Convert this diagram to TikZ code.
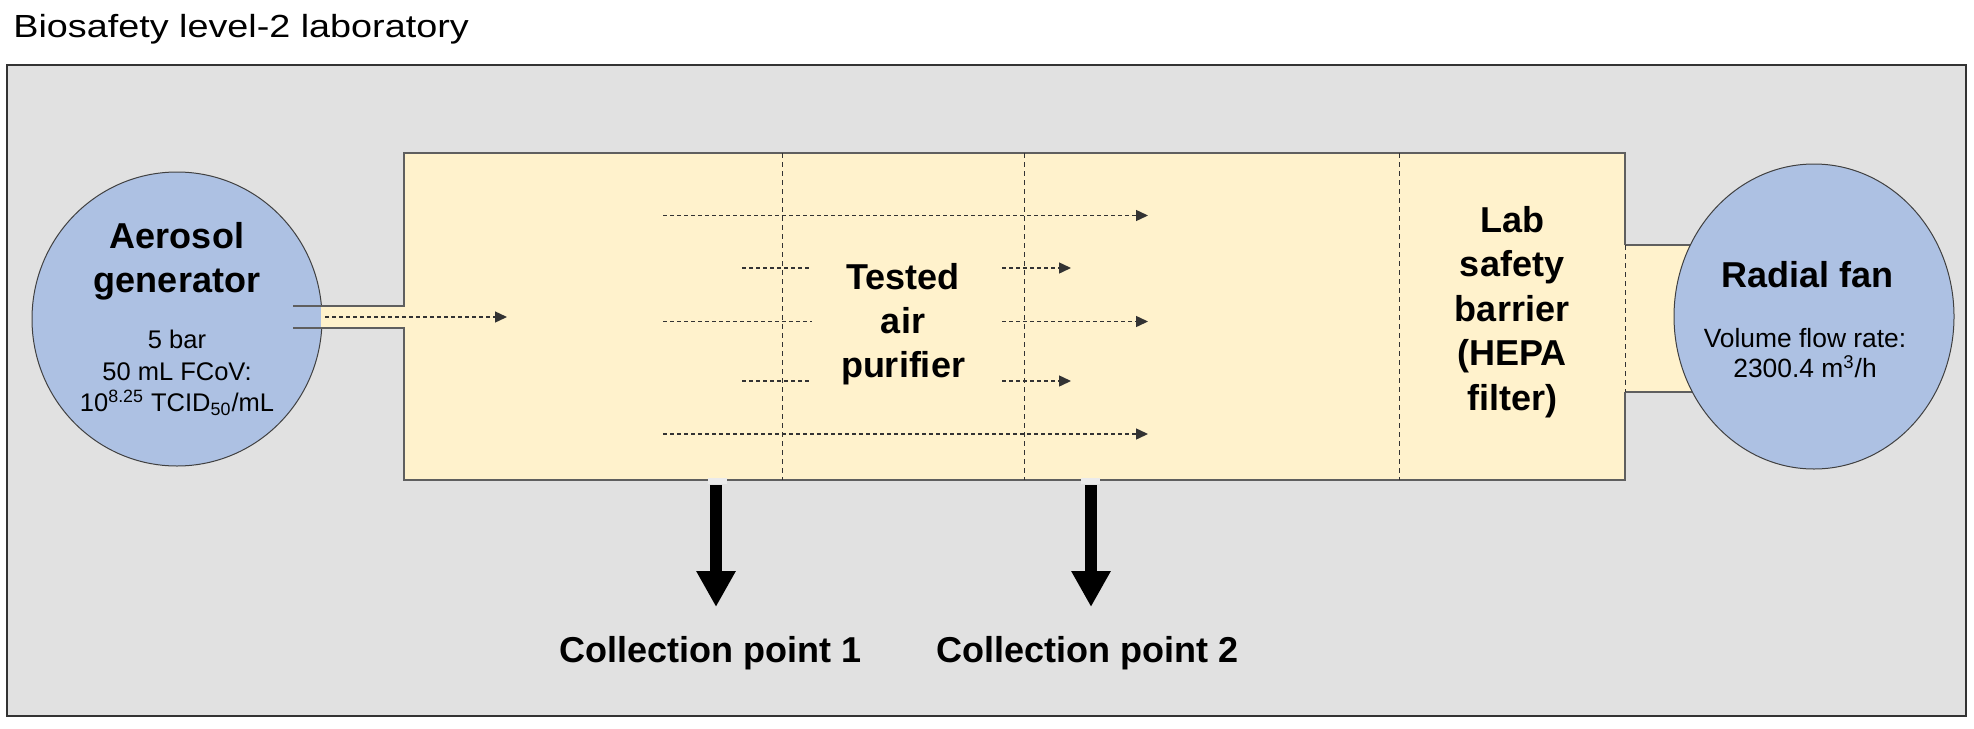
\documentclass[tikz,border=0pt]{standalone}
\usepackage{fontspec}
\setmainfont{Liberation Sans}
\newfontfamily\titlefont[FakeStretch=1.18]{Liberation Sans}
\usetikzlibrary{shapes.geometric, arrows.meta}
\definecolor{labgray}{HTML}{E1E1E1}
\definecolor{ductyellow}{HTML}{FFF2CC}
\definecolor{unitblue}{HTML}{ADC1E3}
\definecolor{edgegray}{HTML}{5F5F5F}

\begin{document}
\begin{tikzpicture}[x=0.5pt,y=-0.5pt,
  blob/.style={ellipse, fill=unitblue, draw=black!75, line width=0.5pt, inner sep=0pt, outer sep=0pt},
  bigtxt/.style={align=center, font=\bfseries\fontsize{18}{22}\selectfont},
  smalltxt/.style={align=center, font=\fontsize{12.75}{15.75}\selectfont},
  flow/.style={draw=black!80, line width=0.7pt, dash pattern=on 2pt off 1.5pt},
  flowarrow/.style={flow, -{Triangle[length=6pt,width=5.5pt]}},
  divider/.style={draw=black!80, line width=0.5pt, dash pattern=on 2.5pt off 2pt},
  collect/.style={line width=6.2pt, -{Triangle[length=18pt,width=18.5pt]}}]
\useasboundingbox (0,0) rectangle (1974,728);
\fill[white] (0,0) rectangle (1974,728);
\node[anchor=base west, inner sep=0pt, font=\titlefont\fontsize{16}{19}\selectfont] (title) at (13,37) {Biosafety level-2 laboratory};
\draw[line width=1pt, draw=black!80, fill=labgray] (7,65) rectangle (1966,716);

% duct and fan side
\fill[ductyellow] (404,153) rectangle (1625,480);
\fill[ductyellow] (1625,245) rectangle (1700,392);
\draw[edgegray, line width=0.75pt] (1625,245) -- (1700,245) (1625,392) -- (1700,392);
\node[blob, minimum width=140pt, minimum height=152.5pt] (fan) at (1814,316.5) {};
\node[blob, minimum width=145pt, minimum height=147pt] (gen) at (177,319) {};
\fill[ductyellow] (321,306) rectangle (404,328);
\draw[edgegray, line width=0.75pt] (1625,245) |- (404,153) |- (293,306) (293,328) -| (404,480) -| (1625,392);
\draw[divider] (1625,245) -- (1625,392);
\foreach \xx in {782,1024,1399}
  \draw[divider] (\xx,153) -- (\xx,480);
\fill[black!8] (708,478) rectangle (727,484);
\fill[black!8] (1081,478) rectangle (1100,484);

% air flow
\draw[flowarrow] (325,317) -- (507,317);
\foreach \yy in {215.5,434}
  \draw[flowarrow] (663,\yy) -- (1148,\yy);
\foreach \yy/\xs/\xe in {268/742/1071, 321.5/663/1148, 381/742/1071} {
  \draw[flow] (\xs,\yy) -- (812,\yy);
  \draw[flowarrow] (1002,\yy) -- (\xe,\yy);
}

\node[bigtxt] (gentitle) at (177,261) {Aerosol\\generator};
\node[smalltxt] (gendetail) at (177,373) {5 bar\\50 mL FCoV:\\10\textsuperscript{8.25} TCID\textsubscript{50}/mL};
\node[bigtxt] (purifier) at (903,324) {Tested\\air\\purifier};
\node[bigtxt, font=\bfseries\fontsize{18}{22.25}\selectfont] (hepa) at (1512,312) {Lab\\safety\\barrier\\(HEPA\\filter)};
\node[anchor=base, font=\bfseries\fontsize{18}{22}\selectfont] (fantitle) at (1807,287) {Radial fan};
\node[align=center, font=\fontsize{13.2}{15}\selectfont] (fandetail) at (1805,353) {Volume flow rate:\\2300.4 m\textsuperscript{3}/h};

% sampling
\coordinate (cp1top) at (716,485);
\coordinate (cp1tip) at (716,607);
\coordinate (cp2top) at (1091,485);
\coordinate (cp2tip) at (1091,607);
\draw[collect] (cp1top) -- (cp1tip);
\draw[collect] (cp2top) -- (cp2tip);
\node[anchor=base, font=\bfseries\fontsize{18}{21}\selectfont] (cp1) at (710,662) {Collection point 1};
\node[anchor=base, font=\bfseries\fontsize{18}{21}\selectfont] (cp2) at (1087,662) {Collection point 2};
\end{tikzpicture}
\end{document}
